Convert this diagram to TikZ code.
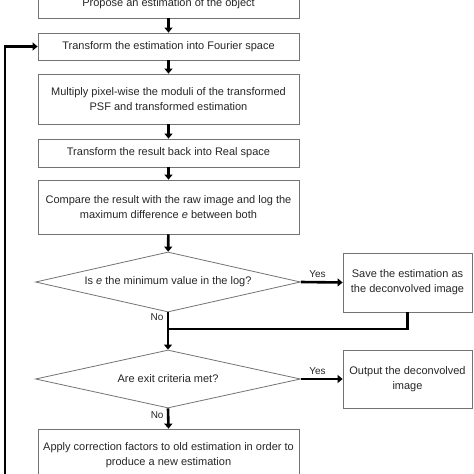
\documentclass[tikz,border=0pt]{standalone}
\usepackage{fontspec}
\setmainfont{Liberation Sans}
\usetikzlibrary{shapes.geometric,arrows.meta}

\begin{document}
\begin{tikzpicture}[x=1pt, y=-1pt,
        box/.style={draw=black!55, line width=0.8pt, text=black!85, align=center,
            minimum width=261pt, inner sep=1pt, font=\fontsize{11}{15}\selectfont},
        sidebox/.style={box, minimum width=129pt},
        decision/.style={draw=black!55, line width=0.8pt, text=black!85, shape=diamond,
            aspect=4.4, inner sep=0pt, minimum width=265pt, font=\fontsize{11}{15}\selectfont},
        flow/.style={line width=2.6pt, -{Triangle[length=5pt, width=8pt]}},
        mergeline/.style={line width=2.6pt},
        lbl/.style={text=black!85, font=\fontsize{10}{12}\selectfont}]
        \useasboundingbox (0,0) rectangle (474,474);
        \clip (0,0) rectangle (474,474);

        \node[box, minimum height=28pt] (propose) at (168.5,4) {Propose an estimation of the object};
        \node[box, minimum height=27pt] (fourier) at (168.5,46.5) {Transform the estimation into Fourier space};
        \node[box, minimum height=50pt] (multiply) at (168.5,99) {Multiply pixel-wise the moduli of the transformed\\PSF and transformed estimation};
        \node[box, minimum height=28pt] (back) at (168.5,153) {Transform the result back into Real space};
        \node[box, minimum height=54pt] (compare) at (168.5,207) {Compare the result with the raw image and log the\\maximum difference \textit{e} between both};
        \node[decision, minimum height=60pt] (ismin) at (168,282) {Is \textit{e} the minimum value in the log?};
        \node[sidebox, minimum height=59pt] (save) at (407.5,282.5) {Save the estimation as\\the deconvolved image};
        \coordinate (merge) at (168,329);
        \node[decision, minimum height=58pt] (exit) at (168,379) {Are exit criteria met?};
        \node[sidebox, minimum height=58pt] (output) at (407.5,379) {Output the deconvolved\\image};
        \node[box, minimum height=53pt] (correct) at (168.5,455.5) {Apply correction factors to old estimation in order to\\produce a new estimation};
        \coordinate (loop) at (5,495);

        \draw[flow] (propose) -- (fourier);
        \draw[flow] (fourier) -- (multiply);
        \draw[flow] (multiply) -- (back);
        \draw[flow] (back) -- (compare);
        \draw[flow] (compare) -- (ismin);
        \draw[flow] (ismin.east) -- node[lbl, above, pos=0.4] {Yes} (save.west);
        \draw[mergeline] (ismin.south) -- node[lbl, left, pos=0.3] {No} (merge);
        \draw[mergeline] (save.south) |- (merge);
        \draw[flow] (merge) -- (exit);
        \draw[flow] (exit.east) -- node[lbl, above, pos=0.4] {Yes} (output.west);
        \draw[flow] (exit.south) -- node[lbl, left, pos=0.35] {No} (correct.north);
        \draw[flow] (correct.south) |- (loop) |- (fourier.west);

    \end{tikzpicture}
\end{document}
